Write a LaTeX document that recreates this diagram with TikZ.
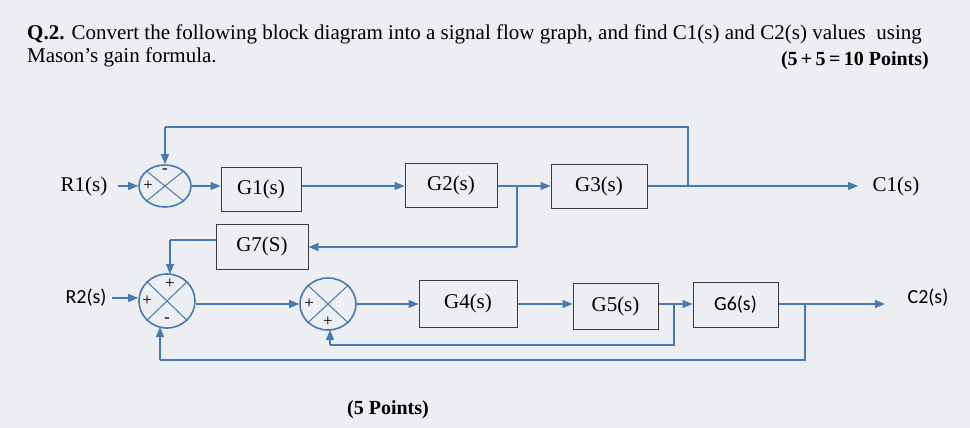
\documentclass[tikz,border=0pt]{standalone}
\usepackage{fontspec}
\setmainfont{Liberation Serif}
\newfontfamily\calfont{Carlito}
\usetikzlibrary{arrows.meta,shapes.geometric}
\definecolor{ln}{RGB}{72,122,178}
\definecolor{bg}{RGB}{236,238,241}
\definecolor{bx}{RGB}{60,60,60}
\begin{document}
\begin{tikzpicture}[x=1pt,y=-1pt,
  blk/.style={draw=bx,line width=1pt,minimum height=44pt,inner sep=0pt,font=\fontsize{21}{21}\selectfont},
  sm/.style={draw=ln,line width=1.6pt,ellipse,inner sep=0pt},
  w/.style={ln,line width=1.1pt},
  a/.style={w,-{Triangle[length=10pt,width=8pt]}},
  sg/.style={inner sep=0pt,font=\fontsize{17}{17}\selectfont},
  lab/.style={inner sep=0pt,font=\fontsize{21}{21}\selectfont}]
\fill[bg] (0,0) rectangle (970,428);
\useasboundingbox (0,0) rectangle (970,428);
% title
\node[anchor=base west,inner sep=0,font=\fontsize{21}{21}\selectfont] (t1) at (27,40) {\textbf{Q.2.} Convert the following block diagram into a signal flow graph, and find C1(s) and C2(s) values\ \ using};
\node[anchor=base west,inner sep=0,font=\fontsize{21}{21}\selectfont] (t2) at (27,63) {Mason's gain formula.};
\node[anchor=base east,inner sep=0,font=\fontsize{20}{20}\selectfont\bfseries] (t3) at (929,66) {(5\,+\,5\,=\,10 Points)};
% sums
\node[sm,minimum width=52pt,minimum height=42pt] (s1) at (165,186) {};
\node[sm,minimum width=56pt,minimum height=54pt] (s2) at (167,301) {};
\node[sm,minimum width=56pt,minimum height=52pt] (s3) at (328,304) {};
\foreach \s in {s1,s2,s3}{
  \draw[ln,line width=1pt] (\s.north west) -- (\s.south east);
  \draw[ln,line width=1pt] (\s.north east) -- (\s.south west);}
\node[sg] (p1) at (s1.west) [xshift=10pt] {+};
\node[sg] (m1) at (s1.north) [yshift=-7pt] {-};
\node[sg] (p2a) at (s2.north) [xshift=3pt,yshift=-10pt] {+};
\node[sg] (p2b) at (s2.west) [xshift=9pt] {+};
\node[sg] (m2) at (s2.south) [yshift=9pt] {-};
\node[sg] (p3a) at (s3.west) [xshift=10pt] {+};
\node[sg] (p3b) at (s3.south) [yshift=9pt] {+};
% blocks
\node[blk,minimum width=80pt] (g1) at (261,189) {G1(s)};
\node[blk,minimum width=92pt] (g2) at (451,185.5) {G2(s)};
\node[blk,minimum width=96pt] (g3) at (599,186) {G3(s)};
\node[blk,minimum width=92pt,minimum height=45pt] (g7) at (262,246.5) {G7(S)};
\node[blk,minimum width=98pt,minimum height=47pt] (g4) at (468,303.5) {G4(s)};
\node[blk,minimum width=85pt,minimum height=46pt] (g5) at (615.5,306) {G5(s)};
\node[blk,minimum width=85pt,minimum height=45pt,font=\calfont\fontsize{20}{20}\selectfont] (g6) at (735.5,304.5) {G6(s)};
% labels
\node[lab] (r1) at (84,186) {R1(s)};
\node[lab,font=\calfont\fontsize{20}{20}\selectfont] (r2) at (86,298) {R2(s)};
\node[lab] (c1) at (896,186) {C1(s)};
\node[lab,font=\calfont\fontsize{20}{20}\selectfont] (c2) at (928,298) {C2(s)};
\node[lab,font=\fontsize{20}{20}\selectfont\bfseries] (pts) at (388,410) {(5 Points)};
\coordinate (b1) at (517,186);
\coordinate (b2) at (688,186);
\coordinate (b3) at (674,304);
\coordinate (b4) at (805,303);
\coordinate (e1) at (858,186);
\coordinate (e2) at (885,303);
\coordinate (r1o) at (118,186);
\coordinate (r2o) at (112,298);
% connectors
\draw[a] (r1o) -- (s1.west);
\draw[a] (s1.east) -- (g1.west |- s1.east);
\draw[a] (g1.east |- s1.east) -- (g2.west |- s1.east);
\draw[a] (g2.east |- s1.east) -- (g3.west |- s1.east);
\draw[a] (g3.east) -- (e1);
\draw[w] (b2) -- (688,127) -- (165,127);
\draw[a] (165,127) -- (s1.north);
\draw[w] (b1) -- (517,247);
\draw[a] (517,247) -- (g7.east |- 0,247);
\draw[w] (216,240) -- (170,240);
\draw[a] (170,240) -- (170,274);
\draw[a] (r2o) -- (s2.west |- r2o);
\draw[a] (s2.east |- s3.west) -- (s3.west);
\draw[a] (s3.east) -- (g4.west |- s3.east);
\draw[a] (g4.east |- s3.east) -- (g5.west |- s3.east);
\draw[a] (g5.east |- s3.east) -- (g6.west |- s3.east);
\draw[a] (g6.east |- s3.east) -- (e2 |- s3.east);
\draw[w] (b3) -- (674,345) -- (330,345);
\draw[a] (330,345) -- (330,330);
\draw[w] (b4) -- (805,360) -- (160,360);
\draw[a] (160,360) -- (160,327);
\end{tikzpicture}
\end{document}
